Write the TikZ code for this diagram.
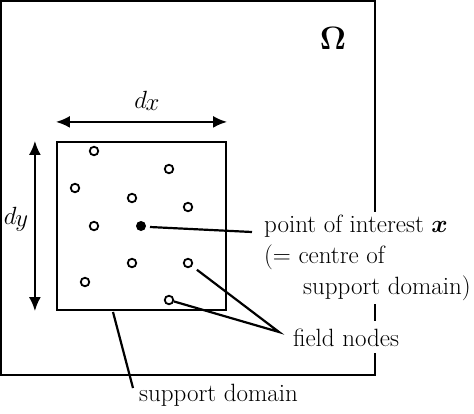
\documentclass[tikz,border=0pt]{standalone}
\usepackage{amsmath}
\usetikzlibrary{positioning,arrows.meta}
\tikzset{>={Latex[length=14pt,width=12pt]}}
\tikzset{
  txt/.style={font=\fontsize{25}{31}\selectfont, inner sep=0pt},
  lbl/.style={txt, fill=white, inner xsep=2pt, inner ysep=3pt, align=left},
  fieldnode/.style={draw, circle, line width=1.8pt, minimum size=8.5pt, inner sep=0pt},
  poi/.style={fill, circle, minimum size=10pt, inner sep=0pt}
}

\begin{document}
\begin{tikzpicture}[x=1pt, y=-1pt, line width=2.2pt]
  \useasboundingbox (0,0) rectangle (474,413);
  % problem domain
  \node[draw, minimum width=374pt, minimum height=374pt, inner sep=0pt] (om) at (188,188) {};
  \node[txt] (omlabel) at (333,38) {\scalebox{1.3}{$\mathbf{\Omega}$}};
  % support domain
  \node[draw, minimum width=169pt, minimum height=168pt, inner sep=0pt] (sd) at (141.5,226) {};
  \coordinate[above=19pt of sd.north west] (dxa);
  \coordinate[above=19pt of sd.north east] (dxb);
  \coordinate[left=21pt of sd.north west] (dya);
  \coordinate[left=21pt of sd.south west] (dyb);
  \draw[<->] (dxa) -- (dxb);
  \draw[<->] (dya) -- (dyb);
  \node[txt, font=\fontsize{23}{25}\selectfont] (dx) at (147,101) {$d\mkern-1mu\raisebox{-2pt}{$x$}$};
  \node[txt, font=\fontsize{23}{25}\selectfont] (dy) at (16,219) {$d\mkern-1mu\raisebox{-2pt}{$y$}$};
  % field nodes
  \node[fieldnode] (n1) at (94,151) {};
  \node[fieldnode] (n2) at (169,169) {};
  \node[fieldnode] (n3) at (75,188) {};
  \node[fieldnode] (n4) at (132,198) {};
  \node[fieldnode] (n5) at (188,207) {};
  \node[fieldnode] (n6) at (94,226) {};
  \node[fieldnode] (n7) at (132,263) {};
  \node[fieldnode] (n8) at (188,263) {};
  \node[fieldnode] (n9) at (85,282) {};
  \node[fieldnode] (n10) at (169,300) {};
  \node[poi] (x) at (141,226) {};
  % labels
  \node[lbl, anchor=north west] (poilabel) at (261,211) {point of interest $\boldsymbol{x}$\\(= centre of\\\hspace*{39pt}support domain)};
  \node[lbl, anchor=base west, inner ysep=7pt] (fnlabel) at (290,346) {field nodes};
  \node[txt, anchor=base west] (sdlabel) at (138,401) {support domain};
  \coordinate (fnjoin) at (279,332);
  \coordinate (sdjoin) at (133,388);
  \draw (x) ++(9,1) -- (252,232);
  \draw[shorten <=6pt] (n8) -- (fnjoin) -- (n10);
  \draw (113,312) -- (sdjoin);
\end{tikzpicture}
\end{document}
